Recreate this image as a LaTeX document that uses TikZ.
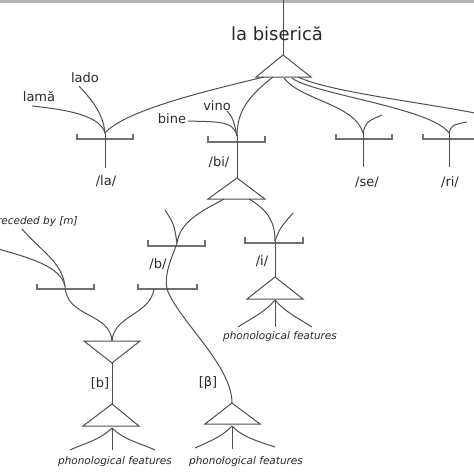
\documentclass[tikz,border=0pt]{standalone}
\usepackage{fontspec}
\setmainfont{DejaVu Sans}
\usetikzlibrary{positioning}
\definecolor{ln}{HTML}{505050}
\definecolor{brkgray}{HTML}{707070}
\definecolor{txt}{HTML}{2A2A2A}
\definecolor{bar}{HTML}{B4B4B4}
\tikzset{
  ln/.style={draw=ln, line width=1pt},
  brk/.style={draw=brkgray, line width=1.1pt},
  tri/.style={draw=ln, line width=1pt, line join=miter},
  lab/.style={text=txt, inner sep=0pt, font=\fontsize{13}{15}\selectfont},
  feat/.style={text=txt, inner sep=0pt, font=\fontsize{10.5}{12}\selectfont\itshape},
}

\begin{document}
\begin{tikzpicture}[x=1pt,y=-1pt]
\useasboundingbox (0,0) rectangle (474,474);
\fill[white] (0,0) rectangle (474,474);
\fill[bar] (0,0) rectangle (474,2.5);

\coordinate (top) at (283,0);
\coordinate (root) at (283,55);
\draw[ln] (top) -- (root);
\draw[tri] (root) -- (256,77) -- (311,77) -- cycle;
\node[lab, font=\fontsize{18}{20}\selectfont] (word) at (277,34) {la biserică};
\coordinate (rb1) at (264,77);
\coordinate (rb2) at (273,77);
\coordinate (rb3) at (284,78);
\coordinate (rb4) at (292,78);
\coordinate (rb5) at (298,77);

\node[lab] (lama) at (39,97) {lamă};
\node[lab] (lado) at (85,78) {lado};
\node[lab] (la) at (106,181) {/la/};
\coordinate (lama-s) at (32,106);
\coordinate (lado-s) at (79,86);
\coordinate (jla) at (105,133);
\coordinate (la-end) at (105,168);
\draw[brk] (77,134) -- (77,139) -- (133,139) -- (133,134);
\draw[ln] (jla) -- (la-end);
\draw[ln] (rb1) .. controls (210,90) and (125,110) .. (jla);
\draw[ln] (lama-s) .. controls (70,110) and (100,116) .. (jla);
\draw[ln] (lado-s) .. controls (90,98) and (103,112) .. (jla);

\node[lab] (bine) at (172,119) {bine};
\node[lab] (vino) at (217,106) {vino};
\node[lab] (bi) at (219,162) {/bi/};
\coordinate (bine-e) at (188,121);
\coordinate (vino-s) at (227,111);
\coordinate (jbi) at (237,136);
\coordinate (bitri) at (237,178);
\draw[brk] (208,136) -- (208,142) -- (265,142) -- (265,136);
\draw[ln] (rb2) .. controls (250,95) and (237,110) .. (jbi);
\draw[ln] (bine-e) .. controls (215,122) and (234,120) .. (jbi);
\draw[ln] (vino-s) .. controls (233,118) .. (jbi);
\draw[ln] (jbi) -- (bitri);
\draw[tri] (bitri) -- (208,199) -- (265,199) -- cycle;

\node[lab] (se) at (367,182) {/se/};
\coordinate (jse) at (363,133);
\coordinate (se-up) at (382,115);
\coordinate (se-end) at (363,167);
\draw[brk] (336,134) -- (336,139) -- (392,139) -- (392,134);
\draw[ln] (rb3) .. controls (300,100) and (355,104) .. (jse);
\draw[ln] (jse) .. controls (366,122) .. (se-up);
\draw[ln] (jse) -- (se-end);

\node[lab] (ri) at (450,182) {/ri/};
\coordinate (jri) at (449,133);
\coordinate (ri-up) at (467,122);
\coordinate (ri-end) at (449,167);
\coordinate (ca-end) at (480,114);
\draw[brk] (423,134) -- (423,139) -- (479,139) -- (479,134);
\draw[ln] (rb4) .. controls (312,94) and (432,108) .. (jri);
\draw[ln] (jri) .. controls (452,125) .. (ri-up);
\draw[ln] (jri) -- (ri-end);
\draw[ln] (rb5) .. controls (330,92) and (420,102) .. (ca-end);

\node[lab] (b) at (158,264) {/b/};
\coordinate (jb) at (177,243);
\coordinate (b-up) at (165,210);
\draw[brk] (148,240) -- (148,246) -- (205,246) -- (205,240);
\draw[ln] (224,199) .. controls (200,212) and (180,222) .. (jb);
\draw[ln] (b-up) .. controls (174,224) .. (jb);

\node[lab] (i) at (262,261) {/i/};
\coordinate (ji) at (275,241);
\coordinate (i-up) at (293,213);
\coordinate (itri) at (275,277);
\coordinate (ifeat) at (275,300);
\draw[brk] (245,237) -- (245,243) -- (303,243) -- (303,237);
\draw[ln] (249,199) .. controls (268,210) and (275,222) .. (ji);
\draw[ln] (ji) .. controls (280,228) .. (i-up);
\draw[ln] (ji) -- (itri);
\draw[tri] (itri) -- (247,299) -- (303,299) -- cycle;
\draw[ln] (ifeat) .. controls (265,312) and (252,318) .. (238,327);
\draw[ln] (ifeat) -- (275,327);
\draw[ln] (ifeat) .. controls (285,312) and (298,318) .. (312,327);
\node[feat] (ipf) at (280,337) {phonological features};

\node[feat, anchor=east] (prec) at (78,222) {preceded by [m]};
\coordinate (prec-s) at (22,229);
\coordinate (left-in) at (-5,248);
\coordinate (jm) at (65,286);
\draw[brk] (37,284) -- (37,289) -- (94,289) -- (94,284);
\draw[ln] (prec-s) .. controls (40,250) and (62,262) .. (jm);
\draw[ln] (left-in) .. controls (30,258) and (60,266) .. (jm);

\coordinate (jbl) at (154,289);
\coordinate (bwave) at (167,289);
\coordinate (dtop) at (112,341);
\coordinate (dapex) at (112,363);
\draw[brk] (138,284) -- (138,289) -- (197,289) -- (197,284);
\draw[tri] (84,341) -- (140,341) -- (dapex) -- cycle;
\draw[ln] (jm) .. controls (66,318) and (110,312) .. (dtop);
\draw[ln] (jbl) .. controls (150,315) and (114,315) .. (dtop);

\node[lab] (bb) at (100,383) {[b]};
\coordinate (btri) at (112,404);
\coordinate (bfeat) at (112,428);
\draw[ln] (dapex) -- (btri);
\draw[tri] (btri) -- (83,426) -- (139,426) -- cycle;
\draw[ln] (bfeat) .. controls (100,440) and (85,443) .. (70,450);
\draw[ln] (bfeat) -- (112,450);
\draw[ln] (bfeat) .. controls (124,440) and (140,443) .. (155,450);
\node[feat] (bpf) at (115,462) {phonological features};

\node[lab] (bbeta) at (208,383) {[β]};
\coordinate (btri2) at (232,403);
\coordinate (befeat) at (232,426);
\draw[ln] (jb) .. controls (172,258) and (164,272) .. (bwave) .. controls (178,320) and (232,365) .. (btri2);
\draw[tri] (btri2) -- (205,424) -- (260,424) -- cycle;
\draw[ln] (befeat) .. controls (222,437) and (208,442) .. (195,448);
\draw[ln] (befeat) -- (232,449);
\draw[ln] (befeat) .. controls (242,437) and (260,442) .. (275,447);
\node[feat] (bepf) at (246,462) {phonological features};
\end{tikzpicture}
\end{document}
